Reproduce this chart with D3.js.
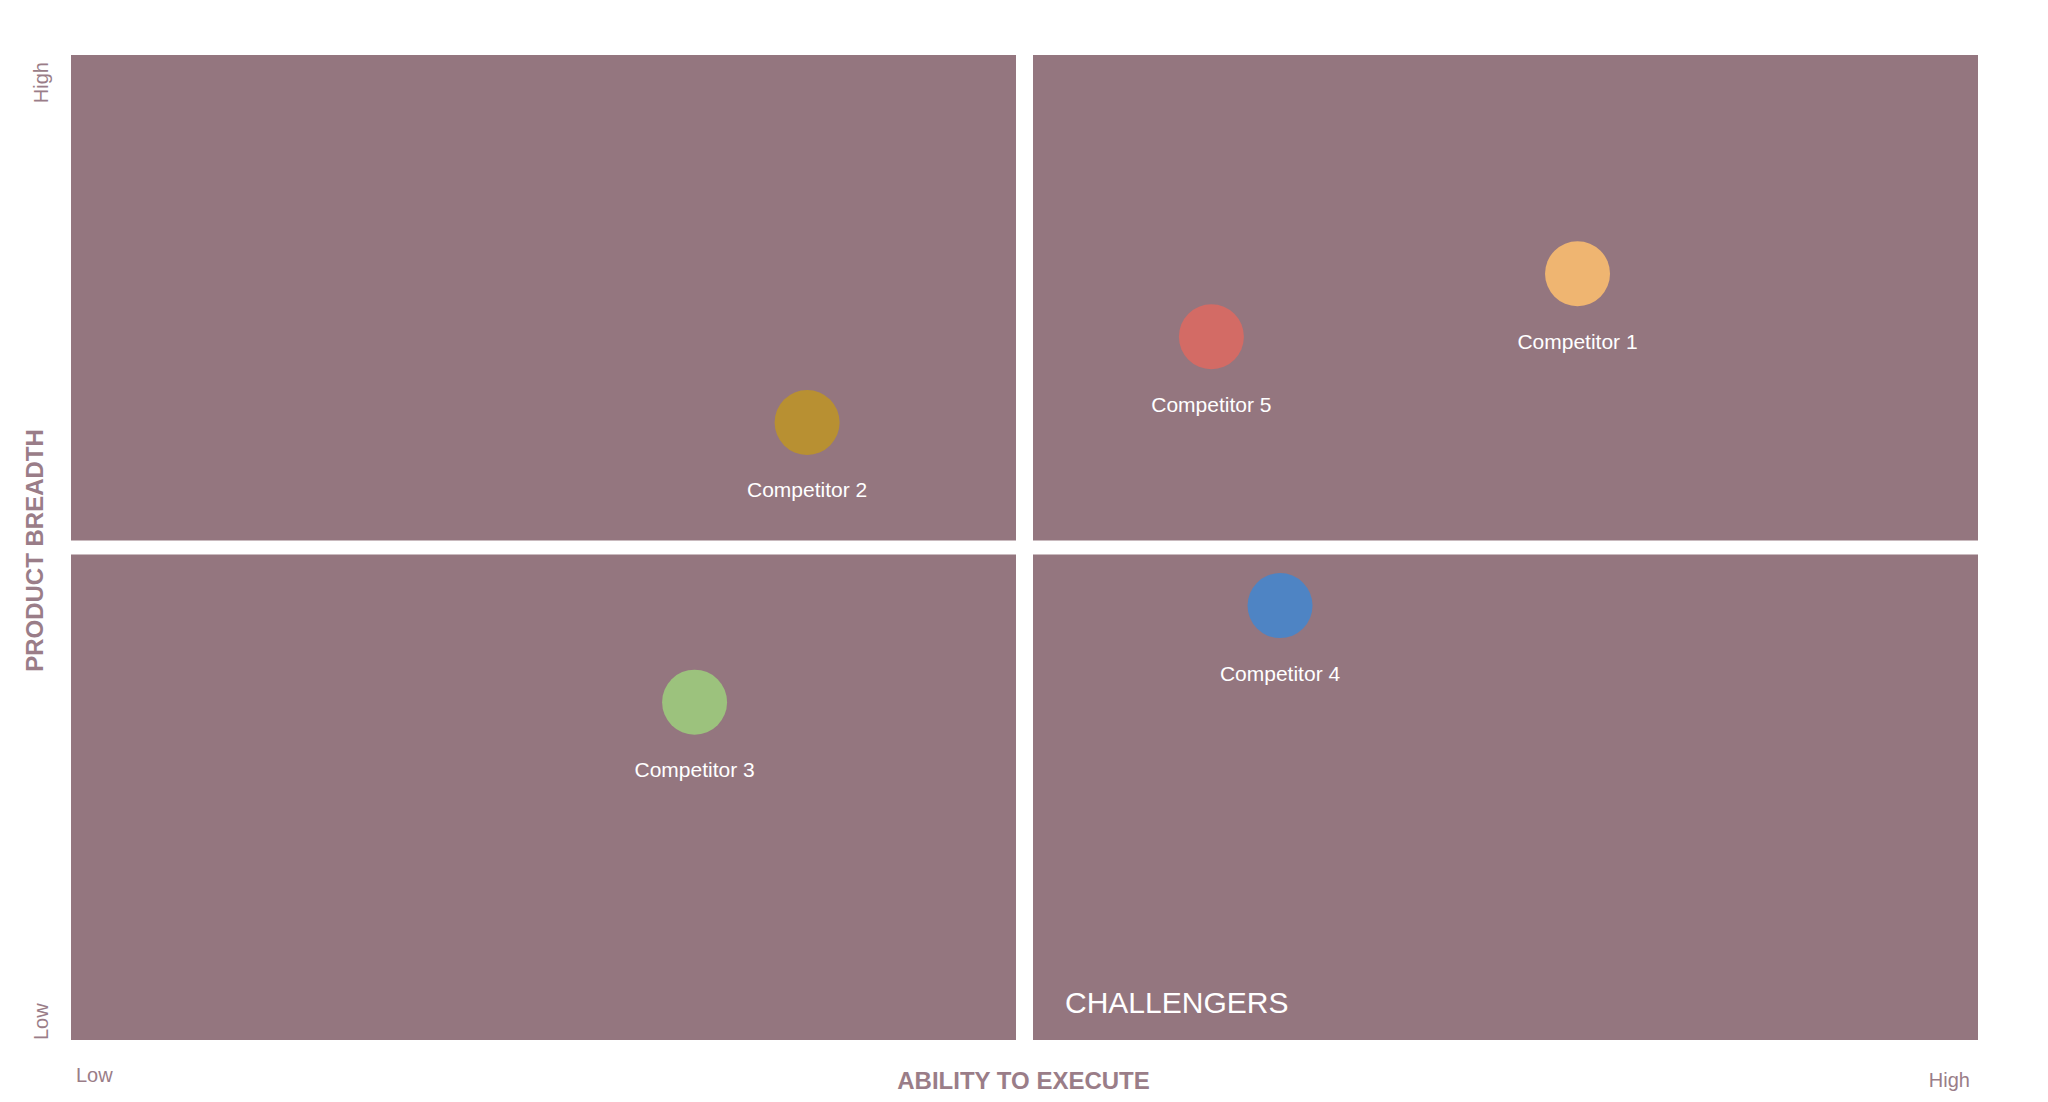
<!DOCTYPE html>
<html>
<head>
<meta charset="utf-8">
<script src="https://cdn.jsdelivr.net/npm/d3@7"></script>
<style>
  html, body { margin: 0; padding: 0; background: #ffffff; }
  svg { display: block; font-family: "Liberation Sans", Arial, Helvetica, sans-serif; }
</style>
</head>
<body>
<svg id="chart" width="2048" height="1102"></svg>
<script>
// ---- data ----
const competitors = ["Competitor 1", "Competitor 2", "Competitor 3", "Competitor 4", "Competitor 5"];
const execution   = [79.0, 38.6, 32.7, 63.4, 59.8];   // x: Ability to execute
const breadth     = [77.8, 62.7, 34.3, 44.1, 71.4];   // y: Product breadth
const colors      = ["#EFB571", "#B89032", "#9CC27D", "#4E84C4", "#D36B65"];
const quadrantX   = [[0, 50], [50, 100]];
const quadrantY   = [[50, 100], [0, 50]];
const quadrantNames = ["", "", "", "", "CHALLENGERS"];
const xTickLabels = ["Low", "High"];
const yTickLabels = ["Low", "High"];
const xTitle = "ABILITY TO EXECUTE";
const yTitle = "PRODUCT BREADTH";

// ---- layout ----
const svg = d3.select("#chart");
const x = d3.scaleLinear().domain([0, 100]).range([71, 1978]);
const y = d3.scaleLinear().domain([0, 100]).range([1040, 55]);
const gapX = 8.5, gapY = 7;
const panelColor = "#94767F";
const labelColor = "#9A7D88";

// quadrants
const quads = [];
quadrantY.forEach((qy, r) => quadrantX.forEach((qx, c) => quads.push({qx, qy, r, c})));
svg.append("g").selectAll("rect").data(quads).join("rect")
  .attr("x", d => x(d.qx[0]) + (d.c === 1 ? gapX : 0))
  .attr("width", d => x(d.qx[1]) - x(d.qx[0]) - gapX)
  .attr("y", d => y(d.qy[1]) + (d.r === 1 ? gapY : 0))
  .attr("height", d => y(d.qy[0]) - y(d.qy[1]) - gapY)
  .attr("fill", panelColor);

// quadrant name (bottom-right)
svg.append("text")
  .attr("x", x(50) + gapX + 32)
  .attr("y", y(0) - 27)
  .attr("fill", "#ffffff")
  .attr("font-size", 30)
  .text(quadrantNames[4]);

// points
const pts = competitors.map((name, i) => ({name, x: execution[i], y: breadth[i], color: colors[i]}));
const g = svg.append("g");
g.selectAll("circle").data(pts).join("circle")
  .attr("cx", d => x(d.x))
  .attr("cy", d => y(d.y))
  .attr("r", 32.5)
  .attr("fill", d => d.color);
g.selectAll("text").data(pts).join("text")
  .attr("x", d => x(d.x))
  .attr("y", d => y(d.y) + 75)
  .attr("text-anchor", "middle")
  .attr("fill", "#ffffff")
  .attr("font-size", 21)
  .text(d => d.name);

// x axis labels
svg.append("text").attr("x", 76).attr("y", 1082).attr("fill", labelColor)
  .attr("font-size", 20).text(xTickLabels[0]);
svg.append("text").attr("x", 1970).attr("y", 1087).attr("fill", labelColor)
  .attr("font-size", 20).attr("text-anchor", "end").text(xTickLabels[1]);
svg.append("text").attr("x", (x(0) + x(100)) / 2 - 1).attr("y", 1089).attr("fill", labelColor)
  .attr("font-size", 24).attr("font-weight", "bold").attr("text-anchor", "middle").text(xTitle);

// y axis labels
svg.append("text").attr("transform", "translate(48,1040) rotate(-90)").attr("fill", labelColor)
  .attr("font-size", 20).text(yTickLabels[0]);
svg.append("text").attr("transform", "translate(48,62) rotate(-90)").attr("fill", labelColor)
  .attr("font-size", 20).attr("text-anchor", "end").text(yTickLabels[1]);
svg.append("text").attr("transform", `translate(43,${(y(0) + y(100)) / 2 + 3}) rotate(-90)`).attr("fill", labelColor)
  .attr("font-size", 24).attr("font-weight", "bold").attr("text-anchor", "middle").text(yTitle);
</script>
</body>
</html>
